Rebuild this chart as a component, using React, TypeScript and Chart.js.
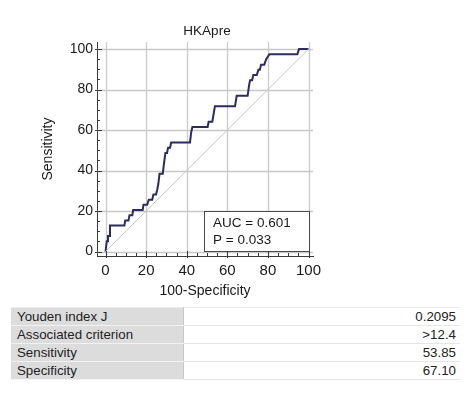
import React, { useEffect, useRef } from "react";
import { Chart, registerables } from "chart.js";

Chart.register(...registerables);

const TITLE = "HKApre";
const X_TITLE = "100-Specificity";
const Y_TITLE = "Sensitivity";

// ROC curve points (100-Specificity, Sensitivity)
const ROC_X = [0, 0.6, 1.2, 1.2, 1.9, 2.2, 9.3, 9.7, 11.3, 11.8, 13.2, 13.6, 18.3, 18.7, 20.5, 21.3, 23.0, 23.6, 24.9, 25.5, 26.0, 26.6, 28.2, 28.8, 29.5, 30.3, 30.8, 31.8, 32.3, 41.6, 42.2, 42.8, 50.3, 50.8, 52.6, 53.9, 63.8, 64.6, 70.0, 70.7, 71.2, 72.2, 72.8, 74.5, 75.3, 76.0, 76.6, 78.2, 79.1, 80.7, 94.5, 95.3, 100];
const ROC_Y = [0, 5.13, 5.13, 7.69, 7.69, 12.82, 12.82, 15.38, 15.38, 17.95, 17.95, 20.51, 20.51, 23.08, 23.08, 25.64, 25.64, 28.21, 28.21, 30.77, 33.33, 38.46, 38.46, 43.59, 48.72, 48.72, 51.28, 51.28, 53.85, 53.85, 58.97, 61.54, 61.54, 64.10, 64.10, 71.79, 71.79, 76.92, 76.92, 82.05, 84.62, 84.62, 87.18, 87.18, 89.74, 89.74, 92.31, 92.31, 94.87, 97.44, 97.44, 100, 100];

const DIAG_X = [0, 100];
const DIAG_Y = [0, 100];

const TICK_VALUES = [0, 20, 40, 60, 80, 100];

const AUC_LINES = ["AUC = 0.601", "P = 0.033"];

const STAT_LABELS = ["Youden index J", "Associated criterion", "Sensitivity", "Specificity"];
const STAT_VALUES = ["0.2095", ">12.4", "53.85", "67.10"];

const FONT = "Arial, 'Liberation Sans', sans-serif";

const titlePlugin = {
  id: "centeredTitle",
  afterDraw(chart: any) {
    const ctx = chart.ctx;
    const area = chart.chartArea;
    ctx.save();
    ctx.fillStyle = "#1a1a1a";
    ctx.font = `13.5px ${FONT}`;
    ctx.textAlign = "center";
    ctx.textBaseline = "middle";
    ctx.fillText(TITLE, (area.left + area.right) / 2 + 2, 31);
    ctx.restore();
  },
};

const gridPlugin = {
  id: "gridLines",
  beforeDatasetsDraw(chart: any) {
    const ctx = chart.ctx;
    const xs = chart.scales.x;
    const ys = chart.scales.y;
    const area = chart.chartArea;
    ctx.save();
    ctx.lineWidth = 1.4;
    ctx.strokeStyle = "#cdcdcd";
    TICK_VALUES.forEach((v) => {
      const p = Math.round(xs.getPixelForValue(v)) + 0.5;
      ctx.beginPath();
      ctx.moveTo(p, area.top);
      ctx.lineTo(p, area.bottom);
      ctx.stroke();
    });
    ctx.strokeStyle = "#c8c8c8";
    TICK_VALUES.forEach((v) => {
      const p = Math.round(ys.getPixelForValue(v)) + 0.5;
      ctx.beginPath();
      ctx.moveTo(area.left, p);
      ctx.lineTo(area.right, p);
      ctx.stroke();
    });
    ctx.restore();
  },
};

const axisPlugin = {
  id: "axisTicks",
  afterDraw(chart: any) {
    const ctx = chart.ctx;
    const xs = chart.scales.x;
    const ys = chart.scales.y;
    const area = chart.chartArea;
    ctx.save();
    ctx.strokeStyle = "#3a3a3a";
    ctx.lineWidth = 1;
    const xt = TICK_VALUES;
    for (let i = 0; i < xt.length; i++) {
      const bx = Math.round(xs.getPixelForValue(xt[i])) + 0.5;
      ctx.beginPath();
      ctx.moveTo(bx, area.bottom + 2);
      ctx.lineTo(bx, area.bottom - 5);
      ctx.stroke();
      if (i < xt.length - 1) {
        for (let k = 1; k < 4; k++) {
          const v = xt[i] + ((xt[i + 1] - xt[i]) * k) / 4;
          const p = Math.round(xs.getPixelForValue(v)) + 0.5;
          ctx.beginPath();
          ctx.moveTo(p, area.bottom);
          ctx.lineTo(p, area.bottom - 3);
          ctx.stroke();
        }
      }
    }
    const yt = TICK_VALUES;
    for (let i = 0; i < yt.length; i++) {
      const by = Math.round(ys.getPixelForValue(yt[i])) + 0.5;
      ctx.beginPath();
      ctx.moveTo(area.left - 2, by);
      ctx.lineTo(area.left + 5, by);
      ctx.stroke();
      if (i < yt.length - 1) {
        for (let k = 1; k < 4; k++) {
          const v = yt[i] + ((yt[i + 1] - yt[i]) * k) / 4;
          const p = Math.round(ys.getPixelForValue(v)) + 0.5;
          ctx.beginPath();
          ctx.moveTo(area.left, p);
          ctx.lineTo(area.left + 3, p);
          ctx.stroke();
        }
      }
    }
    ctx.restore();
  },
};

const aucBoxPlugin = {
  id: "aucBox",
  afterDatasetsDraw(chart: any) {
    const ctx = chart.ctx;
    const xs = chart.scales.x;
    const ys = chart.scales.y;
    const l = Math.round(xs.getPixelForValue(48.5)) + 0.5;
    const r = Math.round(xs.getPixelForValue(100)) + 0.5;
    const t = Math.round(ys.getPixelForValue(20.1)) + 0.5;
    const b = Math.round(ys.getPixelForValue(0.3)) + 0.5;
    ctx.save();
    ctx.fillStyle = "#ffffff";
    ctx.fillRect(l, t, r - l, b - t);
    ctx.strokeStyle = "#4a4a4a";
    ctx.lineWidth = 1;
    ctx.strokeRect(l, t, r - l, b - t);
    ctx.fillStyle = "#1a1a1a";
    ctx.font = `13.5px ${FONT}`;
    ctx.textBaseline = "middle";
    ctx.textAlign = "left";
    ctx.fillText(AUC_LINES[0], l + 8.5, t + 12);
    ctx.fillText(AUC_LINES[1], l + 8.5, t + 28.6);
    ctx.restore();
  },
};

function RocChart() {
  const ref = useRef<HTMLCanvasElement | null>(null);
  useEffect(() => {
    if (!ref.current) return;
    const roc = ROC_X.map((x, i) => ({ x, y: ROC_Y[i] }));
    const diag = DIAG_X.map((x, i) => ({ x, y: DIAG_Y[i] }));
    const chart = new Chart(ref.current, {
      type: "scatter",
      data: {
        datasets: [
          {
            data: diag,
            showLine: true,
            borderColor: "#c4c4c4",
            borderWidth: 1,
            pointRadius: 0,
          },
          {
            data: roc,
            showLine: true,
            borderColor: "#2b2d5c",
            borderWidth: 2,
            pointRadius: 0,
            tension: 0,
          },
        ],
      },
      options: {
        responsive: false,
        animation: false,
        events: [],
        layout: { padding: { left: 0, right: 161, top: 42, bottom: 0 } },
        plugins: {
          legend: { display: false },
          tooltip: { enabled: false },
          title: { display: false },
        },
        scales: {
          x: {
            type: "linear",
            min: -4.2,
            max: 102.2,
            afterBuildTicks: (s: any) => {
              s.ticks = TICK_VALUES.map((v) => ({ value: v }));
            },
            afterFit: (s: any) => {
              s.height = 44;
            },
            ticks: {
              autoSkip: false,
              maxRotation: 0,
              padding: 5.5,
              color: "#1a1a1a",
              font: { family: FONT, size: 15 },
            },
            grid: { display: false, drawTicks: false },
            border: { display: true, color: "#3a3a3a", width: 1 },
            title: {
              display: true,
              text: X_TITLE,
              color: "#1a1a1a",
              font: { family: FONT, size: 14 },
              padding: { top: 0, bottom: 0.5 },
            },
          },
          y: {
            type: "linear",
            min: -2.2,
            max: 103.5,
            afterBuildTicks: (s: any) => {
              s.ticks = TICK_VALUES.map((v) => ({ value: v }));
            },
            afterFit: (s: any) => {
              s.width = 97;
            },
            ticks: {
              autoSkip: false,
              padding: 4,
              color: "#1a1a1a",
              font: { family: FONT, size: 14 },
            },
            grid: { display: false, drawTicks: false },
            border: { display: true, color: "#3a3a3a", width: 1 },
            title: {
              display: true,
              text: Y_TITLE,
              color: "#1a1a1a",
              font: { family: FONT, size: 14 },
              padding: { top: 39.6, bottom: 0 },
            },
          },
        },
      } as any,
      plugins: [gridPlugin, axisPlugin, aucBoxPlugin, titlePlugin],
    });
    return () => chart.destroy();
  }, []);
  return (
    <canvas
      ref={ref}
      width={474}
      height={300}
      style={{ position: "absolute", left: 0, top: 0, width: 474, height: 300, display: "block" }}
    />
  );
}

function StatsTable() {
  return (
    <table
      style={{
        position: "absolute",
        left: 11,
        top: 307,
        width: 449,
        borderCollapse: "collapse",
        fontFamily: FONT,
        fontSize: 13.3,
        color: "#222",
        borderTop: "1px solid #ececec",
      }}
    >
      <tbody>
        {STAT_LABELS.map((lab, i) => (
          <tr key={lab}>
            <td
              style={{
                width: 166,
                height: 17,
                padding: "0 0 0 6px",
                background: "#dcdcdc",
                borderBottom: "1px solid #f2f2f2",
                borderRight: "1px solid #c8c8c8",
                whiteSpace: "nowrap",
                lineHeight: "17px",
              }}
            >
              {lab}
            </td>
            <td
              style={{
                height: 17,
                padding: "0 4px 0 0",
                textAlign: "right",
                background: "#ffffff",
                borderBottom: "1px solid #e6e6e6",
                lineHeight: "17px",
              }}
            >
              {STAT_VALUES[i]}
            </td>
          </tr>
        ))}
      </tbody>
    </table>
  );
}

export default function App() {
  return (
    <div
      style={{
        position: "fixed",
        left: 0,
        top: 0,
        width: 474,
        height: 394,
        background: "#ffffff",
        overflow: "hidden",
      }}
    >
      <RocChart />
      <StatsTable />
    </div>
  );
}
